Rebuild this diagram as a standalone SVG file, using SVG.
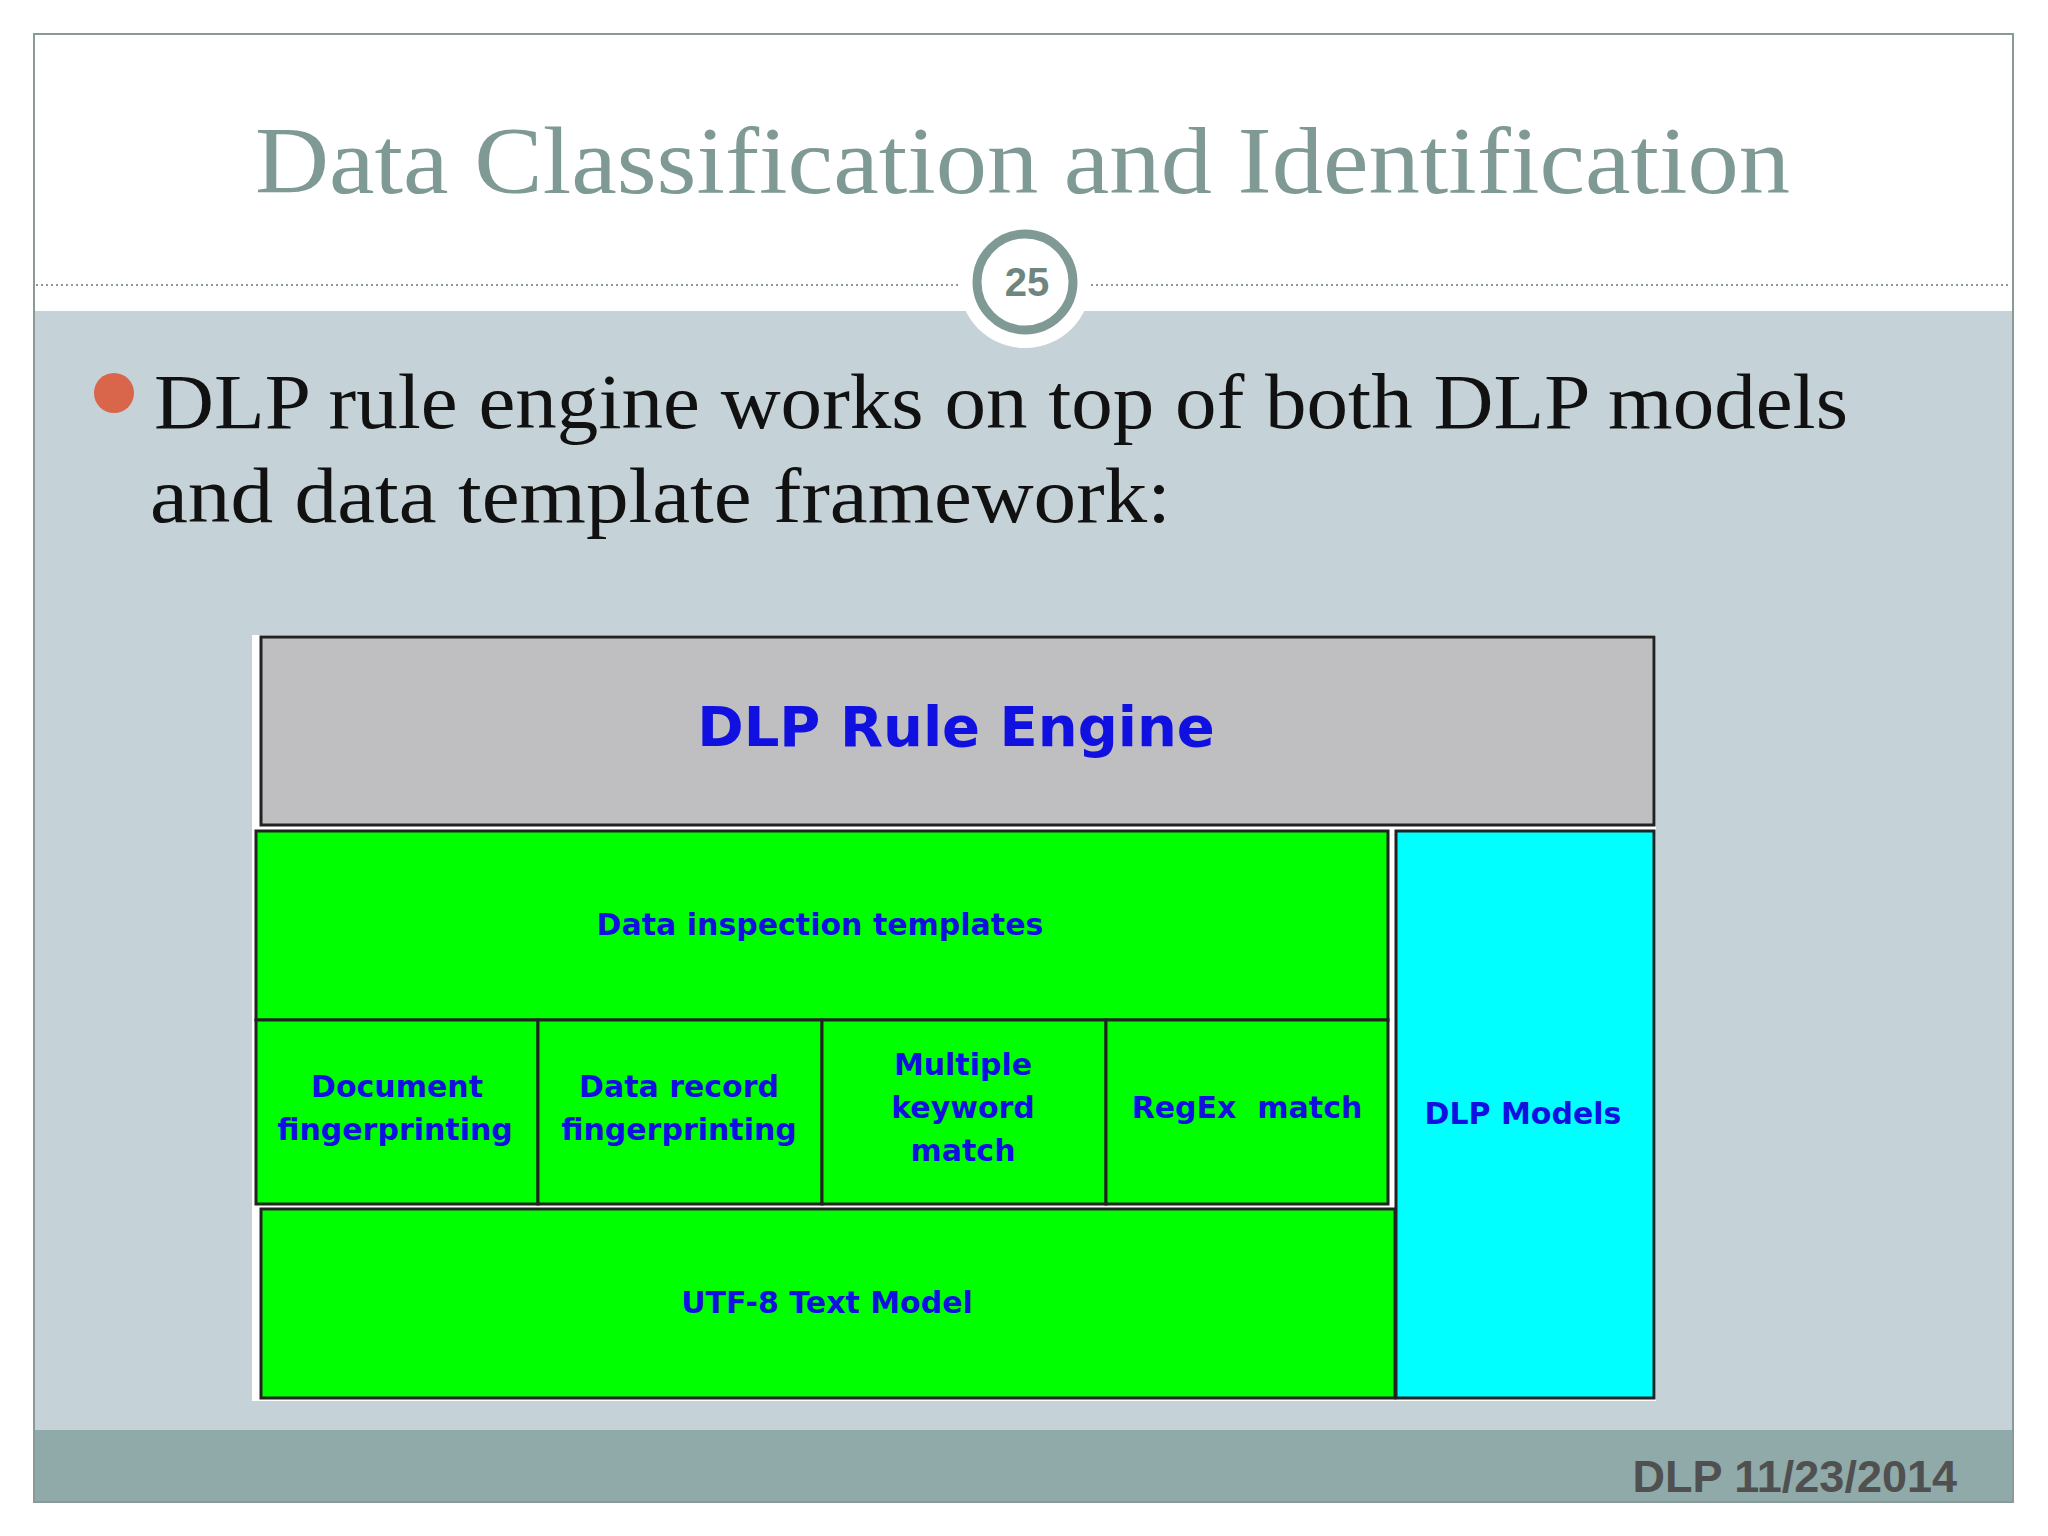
<svg xmlns="http://www.w3.org/2000/svg" width="2048" height="1536" viewBox="0 0 2048 1536">
<style>
.b{stroke:#222;stroke-width:3}
.t{font-family:"DejaVu Sans",Verdana,sans-serif;font-weight:bold;fill:#1010e0;text-anchor:middle;font-size:30px}
.s{font-family:"Liberation Serif","Times New Roman",serif}
</style>
<rect width="2048" height="1536" fill="#fff"/>
<rect x="34" y="311" width="1979" height="1119" fill="#c5d2d7"/>
<rect x="34" y="1430" width="1979" height="72" fill="#8faaa9"/>
<rect x="34" y="34" width="1979" height="1468" fill="none" stroke="#8a9a98" stroke-width="2"/>
<text x="255" y="193" class="s" font-size="96" fill="#7f9a95" textLength="1535" lengthAdjust="spacingAndGlyphs">Data Classification and Identification</text>
<line x1="36" y1="285" x2="2011" y2="285" stroke="#8a9a98" stroke-width="2" stroke-dasharray="2,3"/>
<circle cx="1025" cy="282" r="66" fill="#fff"/>
<circle cx="1025" cy="282" r="48" fill="#fff" stroke="#7f9a95" stroke-width="9"/>
<text x="1027" y="296" font-family="Liberation Sans,Arial,sans-serif" font-weight="bold" font-size="40" fill="#6f8580" text-anchor="middle">25</text>
<circle cx="114" cy="393" r="20" fill="#d9654a"/>
<text x="154" y="428" class="s" font-size="78" fill="#111" textLength="1694" lengthAdjust="spacingAndGlyphs">DLP rule engine works on top of both DLP models</text>
<text x="150" y="522" class="s" font-size="78" fill="#111" textLength="1021" lengthAdjust="spacingAndGlyphs">and data template framework:</text>
<g id="diagram">
<rect x="252" y="635" width="1404" height="766" fill="#fff"/>
<g id="engine"><rect class="b" x="261" y="637" width="1393" height="188" fill="#bfbfc1"/>
<text class="t" x="956" y="746" style="font-size:56px">DLP Rule Engine</text></g>
<g id="templates"><rect class="b" x="256" y="831" width="1132" height="189" fill="#00ff00"/>
<text class="t" x="820" y="935">Data  inspection templates</text></g>
<g id="doc"><rect class="b" x="256" y="1020" width="282" height="184" fill="#00ff00"/>
<text class="t" x="397" y="1097">Document</text><text class="t" x="395" y="1140">fingerprinting</text></g>
<g id="rec"><rect class="b" x="538" y="1020" width="284" height="184" fill="#00ff00"/>
<text class="t" x="679" y="1097">Data record</text><text class="t" x="679" y="1140">fingerprinting</text></g>
<g id="kw"><rect class="b" x="822" y="1020" width="284" height="184" fill="#00ff00"/>
<text class="t" x="963" y="1075">Multiple</text><text class="t" x="963" y="1118">keyword</text><text class="t" x="963" y="1161">match</text></g>
<g id="regex"><rect class="b" x="1106" y="1020" width="282" height="184" fill="#00ff00"/>
<text class="t" x="1247" y="1118" xml:space="preserve">RegEx  match</text></g>
<g id="utf"><rect class="b" x="261" y="1209" width="1134" height="189" fill="#00ff00"/>
<text class="t" x="827" y="1313">UTF-8 Text Model</text></g>
<g id="models"><rect class="b" x="1396" y="831" width="258" height="567" fill="#00ffff"/>
<text class="t" x="1523" y="1124">DLP Models</text></g>
</g>
<g id="connectors"/>
<text x="1957" y="1492" font-family="Liberation Sans,Arial,sans-serif" font-weight="bold" font-size="45" fill="#505050" text-anchor="end">DLP 11/23/2014</text>
</svg>
